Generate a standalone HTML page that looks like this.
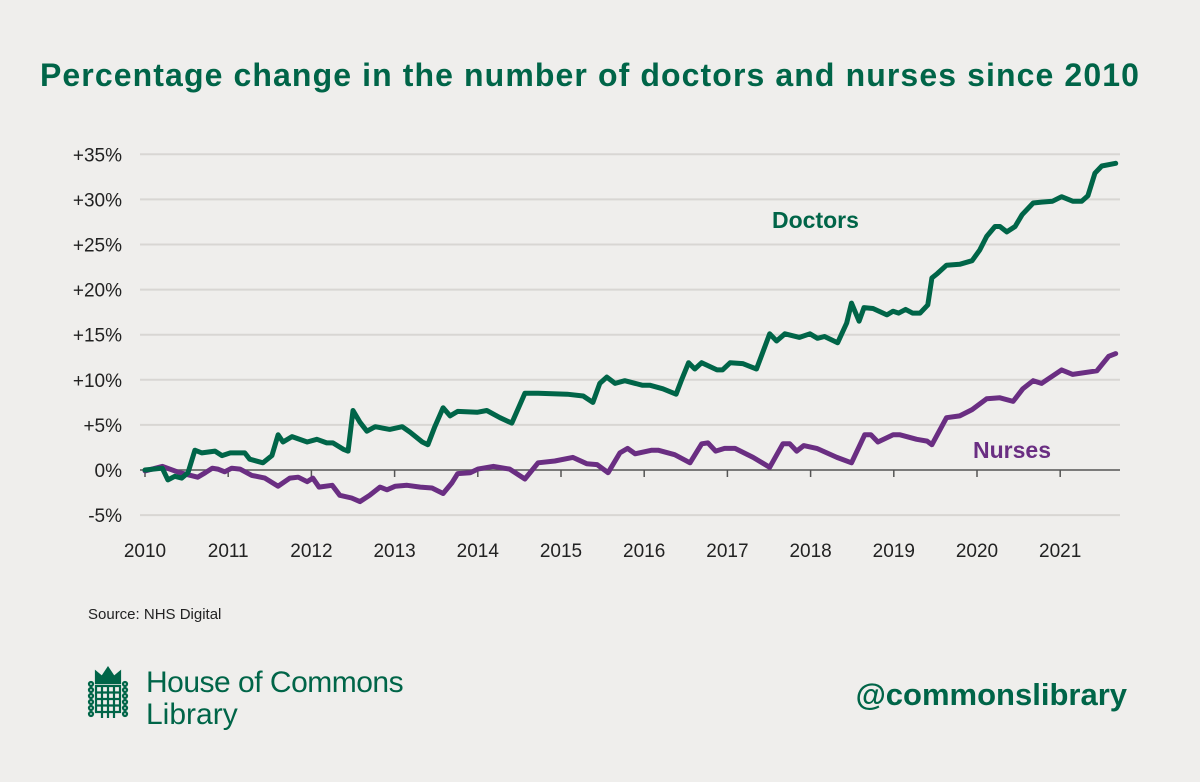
<!DOCTYPE html>
<html><head><meta charset="utf-8"><style>
body{margin:0;background:#efeeec;font-family:"Liberation Sans",sans-serif}
#wrap{position:relative;width:1200px;height:782px;overflow:hidden;background:#efeeec}
</style></head><body>
<div id="wrap">
<svg id="chart" width="1200" height="782"></svg>
</div>
<script>
const yTicks=[-5,0,5,10,15,20,25,30,35];
const yTickLabels=["-5%","0%","+5%","+10%","+15%","+20%","+25%","+30%","+35%"];
const xYears=[2010,2011,2012,2013,2014,2015,2016,2017,2018,2019,2020,2021];
const docMonths=[0,2.5,3.3,4.3,5.3,6.2,7.2,8.2,10.1,11.1,12.3,14.4,15.1,17.0,18.3,19.2,19.9,21.2,23.4,24.8,26.2,27.1,28.6,29.3,30.0,31.0,32.0,33.2,35.3,37.1,38.2,40.0,40.8,41.8,43.0,44.0,45.1,47.9,49.3,51.2,52.9,54.8,56.7,60.9,63.2,64.6,65.6,66.6,67.8,69.2,71.7,72.8,74.7,76.6,77.4,78.4,79.3,80.3,82.5,83.3,84.4,86.2,87.2,88.2,90.1,91.1,92.3,94.4,95.9,97.0,98.0,99.9,101.2,101.9,103.0,103.7,105.0,107.0,107.9,108.7,109.7,110.7,111.8,112.9,113.5,114.3,115.6,117.5,119.3,120.4,121.4,122.6,123.3,124.3,125.5,126.5,128.1,129.3,130.9,132.2,133.8,135.1,136.0,137.0,138.0,140];
const docValues=[0,0.2,-1.1,-0.7,-0.9,-0.3,2.2,1.9,2.1,1.6,1.9,1.9,1.2,0.8,1.6,3.9,3.1,3.7,3.1,3.4,3.0,3.0,2.3,2.1,6.6,5.3,4.3,4.8,4.5,4.8,4.2,3.1,2.8,4.8,6.9,6.0,6.5,6.4,6.6,5.8,5.2,8.5,8.5,8.4,8.2,7.5,9.6,10.3,9.6,9.9,9.4,9.4,9.0,8.4,10.0,11.9,11.2,11.9,11.1,11.1,11.9,11.8,11.5,11.2,15.1,14.3,15.1,14.7,15.1,14.6,14.8,14.1,16.3,18.5,16.5,18.0,17.9,17.2,17.6,17.4,17.8,17.4,17.4,18.3,21.3,21.8,22.7,22.8,23.2,24.4,25.9,27.0,27.0,26.4,27.0,28.3,29.6,29.7,29.8,30.3,29.8,29.8,30.4,32.9,33.7,34.0];
const nurMonths=[0,2.5,5.0,7.6,8.7,9.7,10.5,11.5,12.5,13.7,15.4,17.3,19.2,20.9,22.1,23.4,24.2,25.1,27.0,28.1,29.8,31.0,32.4,33.9,34.9,36.1,37.8,39.7,41.4,43.0,44.3,45.1,46.9,48.0,50.2,52.6,54.8,56.7,59.1,61.7,63.7,65.2,66.8,68.5,69.6,70.7,73.1,74.0,76.4,78.6,80.3,81.2,82.3,83.6,85.1,87.7,90.1,92.0,93.0,94.0,95.0,96.9,99.8,101.9,103.8,104.7,105.7,107.9,108.9,111.3,112.8,113.5,115.6,117.5,119.3,121.4,123.3,125.2,126.6,128.1,129.3,132.2,133.8,137.3,139,140];
const nurValues=[-0.1,0.4,-0.3,-0.8,-0.3,0.2,0.1,-0.2,0.2,0.1,-0.6,-0.9,-1.8,-0.9,-0.8,-1.3,-0.9,-1.9,-1.7,-2.8,-3.1,-3.5,-2.8,-1.9,-2.2,-1.8,-1.7,-1.9,-2.0,-2.6,-1.4,-0.4,-0.3,0.1,0.4,0.1,-1.0,0.8,1.0,1.4,0.7,0.6,-0.3,1.9,2.4,1.8,2.2,2.2,1.7,0.8,2.9,3.0,2.1,2.4,2.4,1.4,0.3,2.9,2.9,2.1,2.7,2.4,1.4,0.8,3.9,3.9,3.1,3.9,3.9,3.4,3.2,2.8,5.8,6.0,6.7,7.9,8.0,7.6,9.0,9.9,9.6,11.1,10.6,11.0,12.6,12.9];

const NS='http://www.w3.org/2000/svg';
const svg=document.getElementById('chart');
const X0=145,PX_PER_MONTH=83.2/12,Y0=470,PX_PER_PCT=9.02;
const xScale=m=>X0+m*PX_PER_MONTH;
const yScale=v=>Y0-v*PX_PER_PCT;
function mk(tag,attrs,parent){const e=document.createElementNS(NS,tag);for(const k in attrs)e.setAttribute(k,attrs[k]);(parent||svg).appendChild(e);return e;}

const title=mk('text',{x:590,y:86,'text-anchor':'middle','font-size':32,'font-weight':'bold',fill:'#006548','letter-spacing':'1.1','font-family':'Liberation Sans, sans-serif'});
title.textContent='Percentage change in the number of doctors and nurses since 2010';



yTicks.forEach((t,i)=>{
  if(t!==0){const g=mk('line',{x1:140,x2:1120,y1:yScale(t),y2:yScale(t),stroke:'#d8d6d3','stroke-width':2});
  
  }
  const lb=mk('text',{x:122,y:yScale(t)+7,'text-anchor':'end','font-size':19,fill:'#222'});
  lb.textContent=yTickLabels[i];
  
  
});
const ax=mk('line',{x1:140,x2:1120,y1:Y0,y2:Y0,stroke:'#555','stroke-width':1.5});


xYears.forEach(yr=>{
  const x=xScale((yr-2010)*12);
  const tk=mk('line',{x1:x,x2:x,y1:Y0,y2:Y0+7,stroke:'#555','stroke-width':1.5});
  
  
  const lb=mk('text',{x:x,y:557,'text-anchor':'middle','font-size':19,fill:'#222'});
  lb.textContent=yr;
  
  
});
function series(ms,vs,color,name){
  const d=ms.map((m,i)=>(i?'L':'M')+xScale(m).toFixed(1)+','+yScale(vs[i]).toFixed(1)).join('');
  const p=mk('path',{d:d,fill:'none',stroke:color,'stroke-width':5,'stroke-linejoin':'round','stroke-linecap':'round'});
  
  
}
series(nurMonths,nurValues,'#6a2e82','nurses-line');
series(docMonths,docValues,'#006548','doctors-line');

const dl=mk('text',{x:772,y:228,'font-size':23,'font-weight':'bold',fill:'#006548'});
dl.textContent='Doctors';


const nl=mk('text',{x:973,y:458,'font-size':23,'font-weight':'bold',fill:'#6a2e82'});
nl.textContent='Nurses';



const src=mk('text',{x:88,y:619,'font-size':15,fill:'#222'});
src.textContent='Source: NHS Digital';



const lg=mk('g',{fill:'none',stroke:'#006548','stroke-width':2.2});


mk('path',{d:'M96,683 L96,672 L102,677 L108,668 L114,677 L120,672 L120,683 Z',fill:'#006548'},lg);
mk('rect',{x:96,y:686,width:24,height:26},lg);
for(let i=1;i<4;i++){mk('line',{x1:96+i*6,x2:96+i*6,y1:686,y2:718},lg);}
for(let j=1;j<4;j++){mk('line',{x1:96,x2:120,y1:686+j*6.5,y2:686+j*6.5},lg);}
for(let j=0;j<6;j++){mk('circle',{cx:91,cy:684+j*6,r:2},lg);mk('circle',{cx:125,cy:684+j*6,r:2},lg);}

const l1=mk('text',{x:146,y:692,'font-size':30,fill:'#006548','letter-spacing':'-0.5'});
l1.textContent='House of Commons';


const l2=mk('text',{x:146,y:724,'font-size':30,fill:'#006548'});
l2.textContent='Library';


const h=mk('text',{x:1127,y:705,'text-anchor':'end','font-size':31,'font-weight':'bold',fill:'#006548'});
h.textContent='@commonslibrary';


</script>
</body></html>
